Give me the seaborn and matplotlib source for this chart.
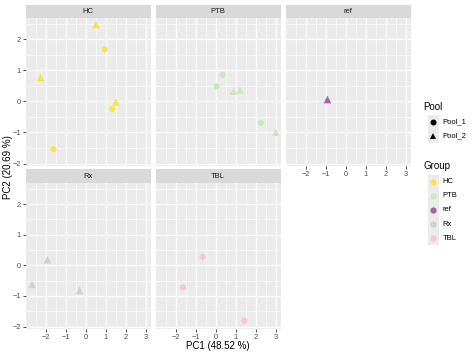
import matplotlib
matplotlib.use("Agg")
import matplotlib.pyplot as plt
import seaborn as sns
import pandas as pd
from matplotlib.patches import Rectangle
from matplotlib.lines import Line2D

# ---- data ----
groups = ["HC", "HC", "HC", "HC", "HC", "HC",
          "PTB", "PTB", "PTB", "PTB", "PTB", "PTB",
          "ref",
          "Rx", "Rx", "Rx",
          "TBL", "TBL", "TBL"]
pools = ["Pool_2", "Pool_1", "Pool_2", "Pool_2", "Pool_1", "Pool_1",
         "Pool_1", "Pool_1", "Pool_2", "Pool_2", "Pool_1", "Pool_2",
         "Pool_2",
         "Pool_2", "Pool_2", "Pool_2",
         "Pool_1", "Pool_1", "Pool_1"]
pc1 = [0.50, 0.93, -2.28, 1.50, 1.30, -1.63,
       0.33, 0.03, 0.88, 1.20, 2.25, 3.00,
       -0.97,
       -1.93, -2.70, -0.33,
       -0.67, -1.65, 1.42]
pc2 = [2.48, 1.68, 0.77, -0.02, -0.24, -1.54,
       0.86, 0.49, 0.33, 0.37, -0.69, -0.99,
       0.08,
       0.18, -0.62, -0.82,
       0.28, -0.72, -1.81]

group_levels = ["HC", "PTB", "ref", "Rx", "TBL"]
pool_levels = ["Pool_1", "Pool_2"]
group_colors = ["#F7E64B", "#C8E9C0", "#A4649F", "#D0D0D0", "#F6C4DC"]
x_ticks = [-2, -1, 0, 1, 2, 3]
y_ticks = [-2, -1, 0, 1, 2]

df = pd.DataFrame({"Group": groups, "Pool": pools, "PC1": pc1, "PC2": pc2})
palette = dict(zip(group_levels, group_colors))
markers = {"Pool_1": "o", "Pool_2": "^"}
msizes = {"Pool_1": 20, "Pool_2": 30}

W, H = 474, 355
fig = plt.figure(figsize=(W / 100, H / 100), dpi=100)
FONT = "Liberation Sans"
plt.rcParams["font.family"] = FONT


def fx(x):
    return x / W


def fy(y):
    return 1 - y / H


cols = [(25.7, 150.7), (155.7, 280.7), (285.7, 410.7)]
rows = [((4.7, 18.3), (18.3, 165.7)), ((169.3, 183.3), (183.3, 328.7))]
layout = {"HC": (0, 0), "PTB": (0, 1), "ref": (0, 2), "Rx": (1, 0), "TBL": (1, 1)}
xlim = (-3.02, 3.24)
ylim = (-2.07, 2.68)

for g in group_levels:
    r, c = layout[g]
    (sx0, sx1) = cols[c]
    (st, sb), (pt, pb) = rows[r]
    ax = fig.add_axes([fx(sx0), fy(pb), (sx1 - sx0) / W, (pb - pt) / H])
    ax.set_facecolor("#EBEBEB")
    for s in ax.spines.values():
        s.set_visible(False)
    ax.set_xlim(*xlim)
    ax.set_ylim(*ylim)
    ax.set_xticks(x_ticks)
    ax.set_yticks(y_ticks)
    ax.set_xticks([-2.5, -1.5, -0.5, 0.5, 1.5, 2.5], minor=True)
    ax.set_yticks([-1.5, -0.5, 0.5, 1.5, 2.5], minor=True)
    ax.grid(which="major", color="white", lw=0.9)
    ax.grid(which="minor", color="white", lw=0.45)
    ax.set_axisbelow(True)
    ax.tick_params(which="minor", length=0)
    ax.tick_params(which="major", length=2.2, width=0.6, color="#333333",
                   labelcolor="#4D4D4D", labelsize=5.3, pad=1.5)
    show_x = (r == 1) or (g == "ref")
    show_y = (c == 0)
    if not show_x:
        ax.tick_params(axis="x", length=0, labelbottom=False)
    if not show_y:
        ax.tick_params(axis="y", length=0, labelleft=False)
    sub = df[df["Group"] == g]
    for p in pool_levels:
        sp = sub[sub["Pool"] == p]
        if len(sp):
            sns.scatterplot(data=sp, x="PC1", y="PC2", hue="Group", palette=palette,
                            marker=markers[p], s=msizes[p], linewidth=0, ax=ax,
                            legend=False)
    ax.set_xlabel("")
    ax.set_ylabel("")
    # strip
    sax = fig.add_axes([fx(sx0), fy(sb), (sx1 - sx0) / W, (sb - st) / H])
    sax.set_facecolor("#D9D9D9")
    sax.set_xticks([])
    sax.set_yticks([])
    for s in sax.spines.values():
        s.set_visible(False)
    sax.text(0.5, 0.5, g, ha="center", va="center", fontsize=5.5,
             color="#1A1A1A", transform=sax.transAxes)

# axis titles
fig.text(fx(218), fy(346), "PC1 (48.52 %)", ha="center", va="center",
         fontsize=7, color="black")
fig.text(fx(8), fy(167), "PC2 (20.69 %)", ha="center", va="center",
         fontsize=7, color="black", rotation=90)

# legends
def legend_block(title, title_y, labels, ys, kind):
    fig.text(fx(423.5), fy(title_y), title, ha="left", va="center",
             fontsize=7, color="black")
    top = ys[0] - 7
    bot = ys[-1] + 7
    fig.add_artist(Rectangle((fx(427.5), fy(bot)), 11 / W, (bot - top) / H,
                             transform=fig.transFigure, facecolor="#EBEBEB",
                             edgecolor="none"))
    for lab, y in zip(labels, ys):
        if kind == "pool":
            fig.add_artist(Line2D([fx(433)], [fy(y)], marker=markers[lab],
                                  markersize=4.3 if lab == "Pool_1" else 5.0,
                                  color="black", linestyle="none",
                                  markeredgewidth=0, transform=fig.transFigure))
        else:
            fig.add_artist(Line2D([fx(433)], [fy(y)], marker="o", markersize=4.5,
                                  color=palette[lab], linestyle="none",
                                  markeredgewidth=0, transform=fig.transFigure))
        fig.text(fx(442.5), fy(y), lab, ha="left", va="center", fontsize=5.5,
                 color="black")


legend_block("Pool", 107, pool_levels, [121.7, 135.7], "pool")
legend_block("Group", 166, group_levels, [181.5, 195.7, 209.8, 224.0, 238.3], "group")

fig.savefig("out.png", dpi=100)
